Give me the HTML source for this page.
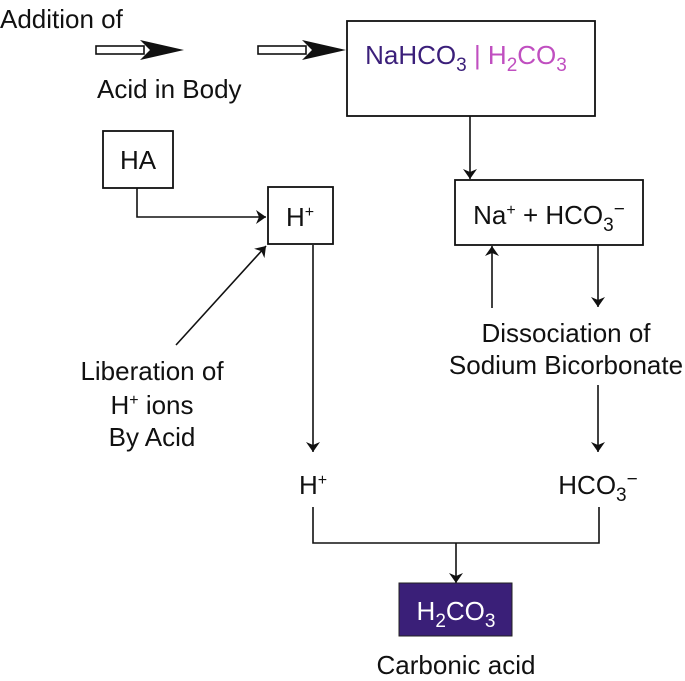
<!DOCTYPE html>
<html><head><meta charset="utf-8"><style>
html,body{margin:0;padding:0;background:#fff;}
svg{display:block;}
text{font-family:"Liberation Sans",Arial,sans-serif;font-size:26px;fill:#111;}
</style></head><body>
<svg width="685" height="681" viewBox="0 0 685 681" xmlns="http://www.w3.org/2000/svg">
<defs>
<marker id="a" markerWidth="10" markerHeight="14" refX="10" refY="7" orient="auto" markerUnits="userSpaceOnUse">
<path d="M0,0 L10,7 L0,14 L3,7 Z" fill="#111"/></marker>
</defs>
<g stroke="#111" stroke-width="1.6" fill="none">
<rect x="96" y="46" width="48" height="8" fill="#fff"/>
<rect x="258" y="46" width="48" height="8" fill="#fff"/>
</g>
<path d="M140,40 L184,50 L140,60 L150,50 Z" fill="#111"/>
<path d="M302,40 L346,50 L302,60 L312,50 Z" fill="#111"/>
<text x="0" y="28">Addition of</text>
<text x="97" y="98">Acid in Body</text>

<g stroke="#111" stroke-width="1.8" fill="#fff">
<rect x="347" y="21" width="248" height="95"/>
<rect x="455" y="180" width="188" height="65"/>
<rect x="103" y="131" width="70" height="57"/>
<rect x="268" y="187" width="65" height="57"/>
</g>
<text x="466" y="64" text-anchor="middle"><tspan style="fill:#3b1f7a">NaHCO</tspan><tspan dy="7" font-size="19" style="fill:#3b1f7a">3</tspan><tspan dy="-7" style="fill:#c04fc0"> | H</tspan><tspan dy="7" font-size="19" style="fill:#c04fc0">2</tspan><tspan dy="-7" style="fill:#c04fc0">CO</tspan><tspan dy="7" font-size="19" style="fill:#c04fc0">3</tspan></text>
<text x="138" y="169" text-anchor="middle">HA</text>
<text x="300" y="226" text-anchor="middle">H<tspan dy="-9" font-size="16">+</tspan></text>
<text x="549" y="224" text-anchor="middle">Na<tspan dy="-9" font-size="16">+</tspan><tspan dy="9"> + HCO</tspan><tspan dy="7" font-size="19">3</tspan><tspan dy="-16" font-size="19">−</tspan></text>

<g stroke="#111" stroke-width="1.6" fill="none">
<line x1="470" y1="116" x2="470" y2="179" marker-end="url(#a)"/>
<polyline points="137,188 137,217 266,217" marker-end="url(#a)"/>
<line x1="176" y1="345" x2="266" y2="246" marker-end="url(#a)"/>
<line x1="313" y1="245" x2="313" y2="452" marker-end="url(#a)"/>
<line x1="492" y1="308" x2="492" y2="246" marker-end="url(#a)"/>
<line x1="598" y1="245" x2="598" y2="307" marker-end="url(#a)"/>
<line x1="598" y1="385" x2="598" y2="452" marker-end="url(#a)"/>
<polyline points="313,507 313,543 599,543 599,507"/>
<line x1="456" y1="543" x2="456" y2="583" marker-end="url(#a)"/>
</g>
<text x="152" y="380" text-anchor="middle">Liberation of</text>
<text x="152" y="414" text-anchor="middle">H<tspan dy="-9" font-size="16">+</tspan><tspan dy="9"> ions</tspan></text>
<text x="152" y="446" text-anchor="middle">By Acid</text>
<text x="566" y="342" text-anchor="middle">Dissociation of</text>
<text x="566" y="374" text-anchor="middle">Sodium Bicorbonate</text>
<text x="313" y="494" text-anchor="middle">H<tspan dy="-9" font-size="16">+</tspan></text>
<text x="598" y="494" text-anchor="middle">HCO<tspan dy="7" font-size="19">3</tspan><tspan dy="-16" font-size="19">−</tspan></text>
<rect x="399" y="583" width="113" height="53" fill="#3a1f78" stroke="#222" stroke-width="1"/>
<text x="456" y="620" text-anchor="middle" style="fill:#fff">H<tspan dy="7" font-size="19">2</tspan><tspan dy="-7">CO</tspan><tspan dy="7" font-size="19">3</tspan></text>
<text x="456" y="674" text-anchor="middle">Carbonic acid</text>
</svg>
</body></html>
